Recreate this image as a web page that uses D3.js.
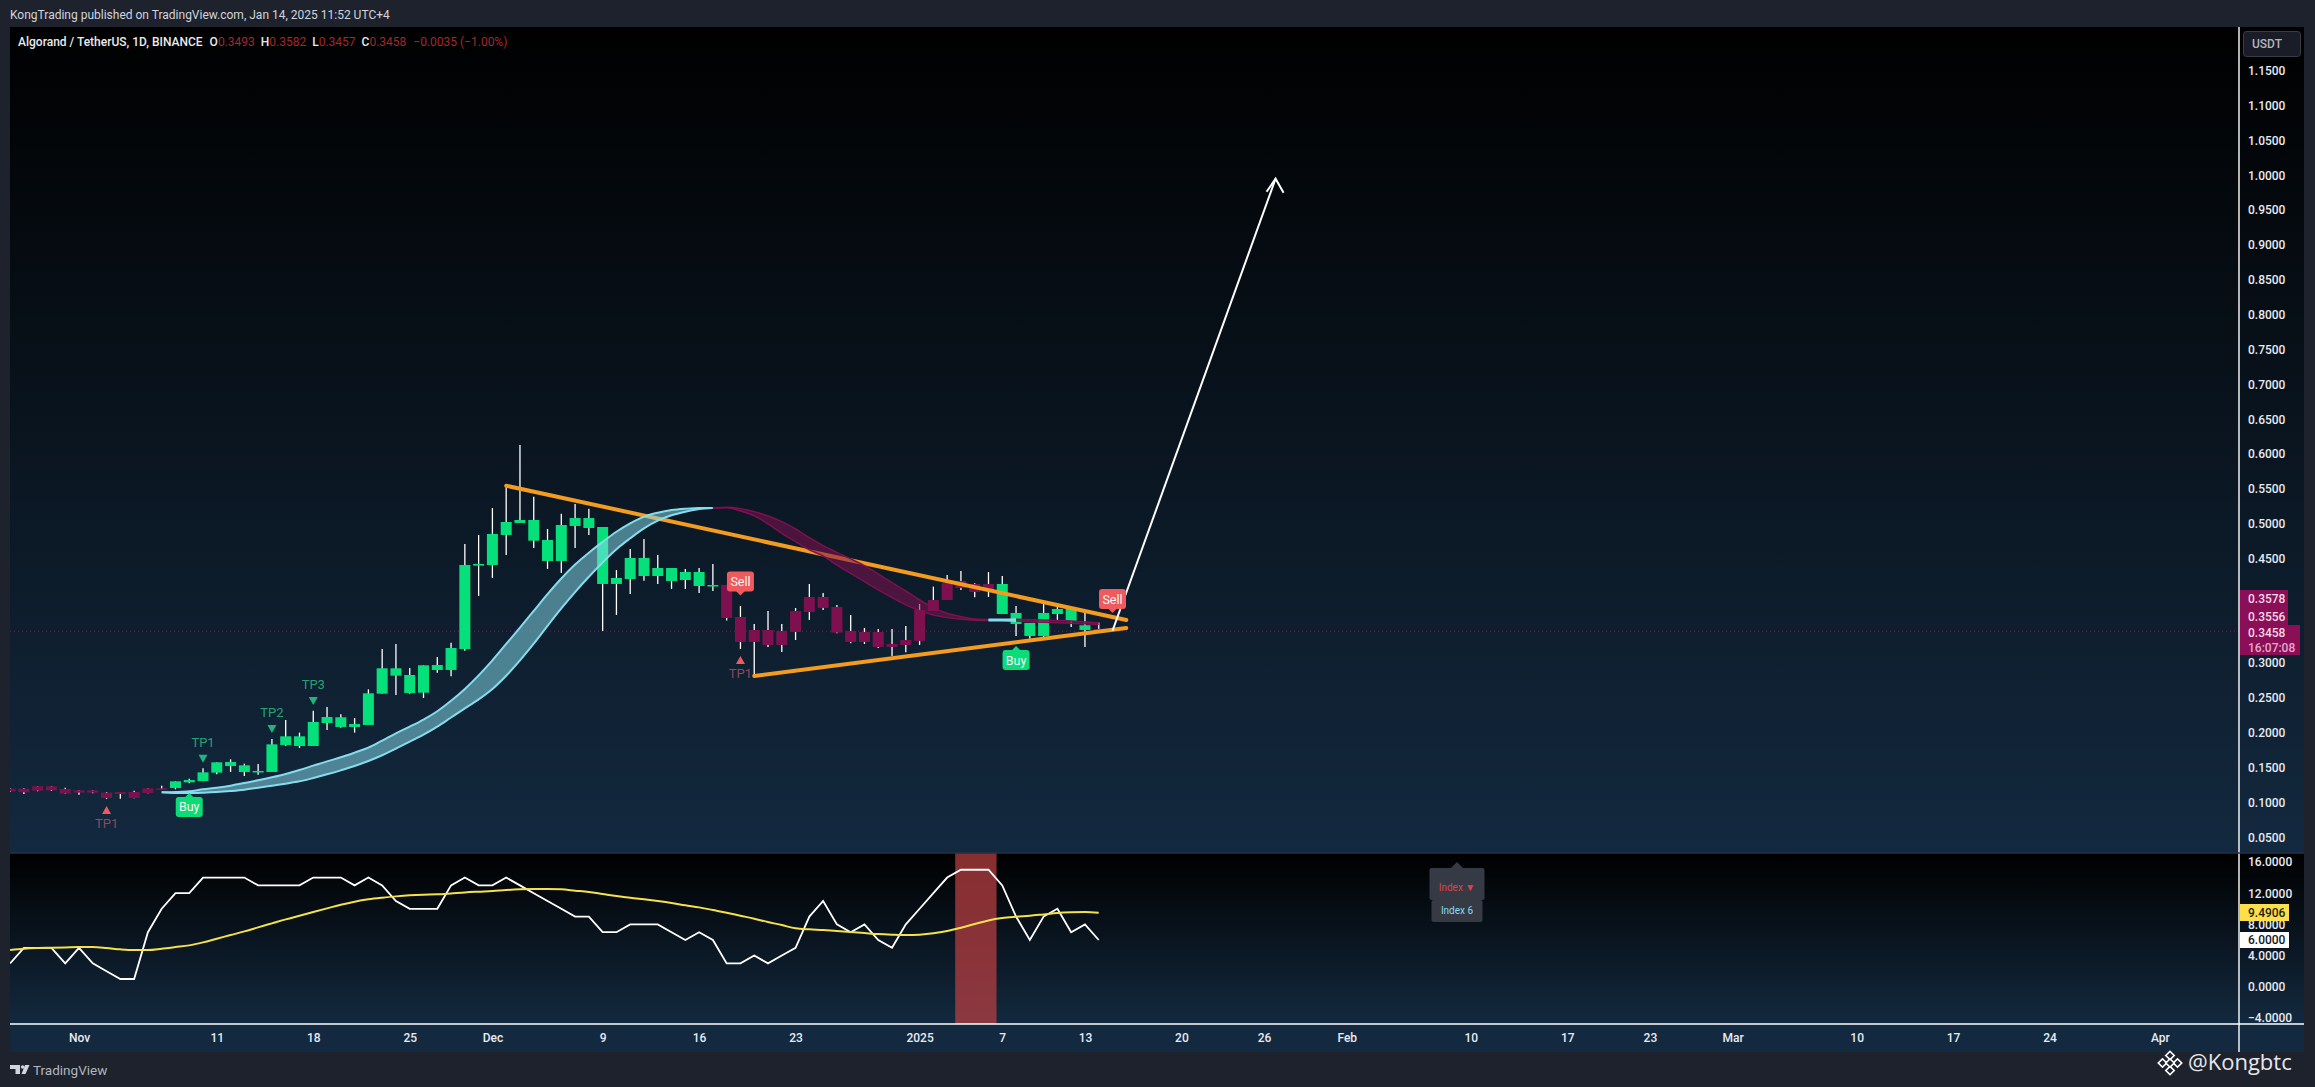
<!DOCTYPE html>
<html>
<head>
<meta charset="utf-8">
<title>Algorand / TetherUS</title>
<script src="https://cdn.jsdelivr.net/npm/d3@7"></script>
<style>
  html, body { margin: 0; padding: 0; background: #1e222d; }
  svg { display: block; }
  text { font-family: Roboto, "Liberation Sans", sans-serif; }
  .axis .domain, .axis line { display: none; }
  .axis text { fill: #e8ebf1; font-size: 12px; font-weight: 500; font-family: Roboto, sans-serif; }
</style>
</head>
<body>
<div id="chart"></div>
<script>
// Daily candles, one entry per day starting 2024-10-27
var firstCandle = "2024-10-27";

var candleHigh = [
  .1204,.1204,.1233,.1237,.1213,
  .1175,.1175,.1151,.1151,.1170,.1204,.1242,.1304,.1343,.1491,.1577,.1620,.1558,.1553,.1912,
  .2184,.2003,.2318,.2371,.2266,.2213,.2624,.3203,.3275,.2930,.2969,.3088,.3294,.4709,.4839,
  .5226,.5522,.6130,.5389,.4925,.5145,.5283,.5216,.4953,.4336,.4638,.4781,.4552,.4365,.4351,
  .4365,.4423,.4122,.3820,.3562,.3748,.3562,.3791,.4136,.4007,.3835,.3691,.3505,.3490,.3490,.3533,
  .3849,.4098,.4265,.4322,.4145,.4308,.4251,.3820,.3576,.3863,.3834,.3777,.3734,.3582
];
var candleTop = [
  .1199,.1199,.1233,.1233,.1194,
  .1175,.1175,.1142,.1151,.1151,.1204,.1204,.1304,.1323,.1433,.1577,.1582,.1534,.1453,.1835,
  .1950,.1950,.2156,.2227,.2223,.2127,.2567,.2926,.2926,.2830,.2969,.2973,.3217,.4408,.4423,
  .4853,.5025,.5054,.5054,.4767,.4982,.5082,.5082,.4953,.4222,.4509,.4509,.4365,.4365,.4308,
  .4308,.4121,.4122,.3662,.3476,.3476,.3462,.3748,.3949,.3949,.3806,.3462,.3447,.3447,.3275,.3332,
  .3763,.3906,.4150,.4179,.4136,.4136,.4136,.3720,.3576,.3720,.3777,.3777,.3543,.3493
];
var candleBottom = [
  .1161,.1147,.1170,.1175,.1127,
  .1142,.1142,.1065,.1123,.1065,.1137,.1190,.1209,.1290,.1309,.1429,.1524,.1438,.1438,.1438,
  .1826,.1811,.1811,.2141,.2084,.2084,.2113,.2562,.2820,.2572,.2576,.2902,.2902,.3203,.4399,
  .4408,.4839,.5011,.4757,.4466,.4466,.4968,.4939,.4136,.4136,.4207,.4250,.4250,.4179,.4193,
  .4107,.4107,.3648,.3304,.3304,.3261,.3261,.3447,.3734,.3792,.3438,.3304,.3304,.3232,.3232,.3261,
  .3318,.3748,.3906,.4078,.4021,.4050,.3705,.3562,.3390,.3390,.3705,.3605,.3476,.3458
];
var candleLow = [
  .1151,.1123,.1161,.1166,.1123,
  .1113,.1132,.1051,.1056,.1060,.1132,.1190,.1190,.1276,.1304,.1405,.1438,.1381,.1400,.1438,
  .1811,.1783,.1811,.2041,.2074,.2003,.2113,.2562,.2543,.2562,.2500,.2863,.2811,.3179,.3963,
  .4222,.4552,.5011,.4652,.4351,.4293,.4652,.4839,.3461,.3691,.3992,.4183,.4136,.4064,.4064,
  .4006,.4035,.3610,.3203,.2830,.3232,.3160,.3332,.3619,.3763,.3428,.3285,.3275,.3218,.3103,.3155,
  .3261,.3748,.3906,.4050,.3945,.3949,.3705,.3390,.3351,.3366,.3619,.3519,.3232,.3457
];
var bullRuns = [["2024-11-08", "2024-12-17"], ["2025-01-07", "2025-01-13"]];

// Trend ribbon, one entry per day starting 2024-11-07
var firstRibbon = "2024-11-07";
var ribbonUpper = [
  .1147,.1151,.1161,.1190,.1213,.1242,.1280,.1319,.1362,.1410,.1467,.1529,.1591,.1649,.1716,.1787,
  .1888,.1993,.2089,.2190,.2310,.2460,.2630,.2825,
  .3040,.3275,.3510,.3750,.3990,.4215,.4415,.4585,.4740,.4885,.5005,.5102,.5159,.5197,.5216,.5226,
  .5226,.5236,.5217,.5174,.5111,.5030,.4925,.4801,.4686,.4590,.4495,.4399,.4279,.4155,.4035,
  .3906,.3796,.3715,.3667,.3634,.3625,.3625,.3629,.3624,.3619,.3612,.3604,.3592,.3578
];
var ribbonLower = [
  .1147,.1137,.1137,.1142,.1151,.1166,.1185,.1213,.1242,.1271,.1304,.1352,.1405,.1462,.1524,.1596,
  .1678,.1773,.1874,.1975,.2090,.2220,.2350,.2480,
  .2630,.2820,.3040,.3280,.3535,.3785,.4020,.4240,.4445,.4635,.4791,.4934,.5044,.5121,.5173,.5212,
  .5226,.5231,.5183,.5112,.4997,.4863,.4743,.4624,.4538,.4408,.4289,.4169,.4050,.3940,.3835,
  .3753,.3691,.3653,.3629,.3615,.3610,.3610,.3605,.3595,.3586,.3578,.3573,.3565,.3556
];
var ribbonSpans = [
  { from: "2024-11-07", to: "2024-12-17", dir: "bull" },
  { from: "2024-12-17", to: "2025-01-06", dir: "bear" },
  { from: "2025-01-06", to: "2025-01-08", dir: "bull" },
  { from: "2025-01-08", to: "2025-01-14", dir: "bear" }
];

// Lower pane, one entry per candle
var indexValues = [
  3,5,5,5,3,
  5,3,2,1,1,7,10,12,12,14,14,14,14,13,13,13,13,14,14,14,13,14,13,11,10,10,10,13,14,13,
  13,14,13,12,11,10,9,9,7,7,8,8,8,7,6,7,6,3,3,4,3,4,5,9,11,8,7,8,6,5,8,
  10,12,14,15,15,15,13,9,6,9,10,7,8,6
];
var indexAverage = [
  4.71,4.88,4.97,5.01,5.05,
  5.09,5.09,4.97,4.80,4.71,4.71,4.88,5.09,5.31,5.69,6.16,6.63,7.10,7.62,8.13,8.64,9.11,9.58,10.05,
  10.52,10.91,11.21,11.42,11.59,11.72,11.80,11.85,11.97,12.10,12.19,
  12.27,12.40,12.49,12.53,12.53,12.49,12.32,12.15,11.89,11.63,11.42,11.21,10.99,10.74,10.44,10.18,
  9.84,9.50,9.11,8.73,8.30,7.91,7.49,7.36,7.27,7.15,7.02,6.89,6.76,6.68,6.63,
  6.68,6.85,7.15,7.57,8.04,8.51,8.81,8.98,9.11,9.28,9.45,9.54,9.58,9.4906
];
var alertSpan = ["2025-01-03T14:00:00Z", "2025-01-06T14:00:00Z"];

// Drawn trend lines and the projected move
var trendLines = [
  { from: ["2024-12-02", .5546], to: ["2025-01-16", .3619] },
  { from: ["2024-12-20", .2816], to: ["2025-01-16", .3504] }
];
var projection = { from: ["2025-01-15", .3465], to: ["2025-01-26T20:00:00Z", .995] };

// Signals on the price pane
var boxSignals = [
  { date: "2024-11-09", price: .0936, label: "Buy" },
  { date: "2025-01-08", price: .3045, label: "Buy" },
  { date: "2024-12-19", price: .4170, label: "Sell" },
  { date: "2025-01-15", price: .3920, label: "Sell" }
];
var tpSignals = [
  { date: "2024-11-10", price: .1629, label: "TP1", side: "up" },
  { date: "2024-11-15", price: .2055, label: "TP2", side: "up" },
  { date: "2024-11-18", price: .2457, label: "TP3", side: "up" },
  { date: "2024-11-03", price: .0893, label: "TP1", side: "down" },
  { date: "2024-12-19", price: .3045, label: "TP1", side: "down" }
];

// Axes
var priceTicks = [1.15,1.1,1.05,1,.95,.9,.85,.8,.75,.7,.65,.6,.55,.5,.45,.3,.25,.2,.15,.1,.05];
var indexTicks = [16,12,8,4,0,-4];
var dateTicks = [
  "2024-11-01","2024-11-11","2024-11-18","2024-11-25","2024-12-01","2024-12-09","2024-12-16",
  "2024-12-23","2025-01-01","2025-01-07","2025-01-13","2025-01-20","2025-01-26","2025-02-01",
  "2025-02-10","2025-02-17","2025-02-23","2025-03-01","2025-03-10","2025-03-17","2025-03-24","2025-04-01"
];
var dateLabels = [
  "Nov","11","18","25","Dec","9","16","23","2025","7","13","20","26","Feb","10","17","23","Mar","10","17","24","Apr"
];

// Header texts
var publishLine = "KongTrading published on TradingView.com, Jan 14, 2025 11:52 UTC+4";
var symbolName = "Algorand / TetherUS, 1D, BINANCE";
var ohlcLabels = ["O", "H", "L", "C"];
var ohlcValues = ["0.3493", "0.3582", "0.3457", "0.3458"];
var changeText = "\u22120.0035 (\u22121.00%)";

var parseDay = function(s) {
  return new Date(s.length > 10 ? s : s + "T00:00:00Z");
};

var render = function() {
  var width = 2315;
  var height = 1087;

  var pane = { left: 10, right: 2239, edge: 2304, top: 27, split: 853, bottom: 1024, foot: 1052 };

  var x = d3
    .scaleUtc()
    .domain([parseDay("2024-10-27"), parseDay("2025-04-06")])
    .range([10.1, 2228.7]);

  var y = d3.scaleLinear().domain([1.2127, 0.0276]).range([pane.top, pane.split]);
  var yIndex = d3.scaleLinear().domain([17.15, -4.77]).range([pane.split, pane.bottom]);

  var candles = candleHigh.map(function(h, i) {
    return {
      date: d3.utcDay.offset(parseDay(firstCandle), i),
      high: h,
      top: candleTop[i],
      bottom: candleBottom[i],
      low: candleLow[i],
      index: indexValues[i],
      average: indexAverage[i]
    };
  });

  var ribbon = ribbonUpper.map(function(u, i) {
    return {
      date: d3.utcDay.offset(parseDay(firstRibbon), i),
      upper: u,
      lower: ribbonLower[i]
    };
  });

  var isBull = function(date) {
    return bullRuns.some(function(r) {
      return date >= parseDay(r[0]) && date <= parseDay(r[1]);
    });
  };

  var svg = d3
    .select("#chart")
    .append("svg")
    .attr("width", width)
    .attr("height", height);

  var defs = svg.append("defs");

  var addGradient = function(id) {
    var g = defs
      .append("linearGradient")
      .attr("id", id)
      .attr("x1", 0)
      .attr("x2", 0)
      .attr("y1", 0)
      .attr("y2", 1);
    g.append("stop").attr("offset", "0%").attr("stop-color", "#000000");
    g.append("stop").attr("offset", "100%").attr("stop-color", "#13293f");
  };
  addGradient("main-bg");
  addGradient("index-bg");

  defs
    .append("clipPath")
    .attr("id", "price-clip")
    .append("rect")
    .attr("x", pane.left)
    .attr("y", pane.top)
    .attr("width", pane.right - pane.left)
    .attr("height", pane.split - pane.top);

  defs
    .append("clipPath")
    .attr("id", "index-clip")
    .append("rect")
    .attr("x", pane.left)
    .attr("y", pane.split)
    .attr("width", pane.right - pane.left)
    .attr("height", pane.bottom - pane.split);

  // Frame and pane backgrounds
  svg.append("rect").attr("width", width).attr("height", height).attr("fill", "#1e222d");

  svg
    .append("rect")
    .attr("x", pane.left)
    .attr("y", pane.top)
    .attr("width", pane.edge - pane.left)
    .attr("height", pane.split - pane.top)
    .attr("fill", "url(#main-bg)");

  svg
    .append("rect")
    .attr("x", pane.left)
    .attr("y", pane.split)
    .attr("width", pane.edge - pane.left)
    .attr("height", pane.bottom - pane.split)
    .attr("fill", "url(#index-bg)");

  svg
    .append("rect")
    .attr("x", pane.left)
    .attr("y", pane.bottom)
    .attr("width", pane.edge - pane.left)
    .attr("height", pane.foot - pane.bottom)
    .attr("fill", "#13293f");

  // Price pane
  var price = svg.append("g").attr("clip-path", "url(#price-clip)");

  price
    .append("line")
    .attr("x1", pane.left)
    .attr("x2", pane.right)
    .attr("y1", y(0.3458))
    .attr("y2", y(0.3458))
    .attr("stroke", "#8b1157")
    .attr("stroke-width", 1)
    .attr("stroke-dasharray", "1 3");

  var candleWidth = 11;

  var candle = price
    .selectAll(".candle")
    .data(candles)
    .enter()
    .append("g")
    .attr("class", "candle");

  candle
    .append("line")
    .attr("x1", d => x(d.date))
    .attr("x2", d => x(d.date))
    .attr("y1", d => y(d.high))
    .attr("y2", d => y(d.low))
    .attr("stroke", "#ffffff")
    .attr("stroke-width", 1.3);

  candle
    .append("rect")
    .attr("x", d => x(d.date) - candleWidth / 2)
    .attr("y", d => y(d.top))
    .attr("width", candleWidth)
    .attr("height", d => Math.max(1.5, y(d.bottom) - y(d.top)))
    .attr("fill", d => (isBull(d.date) ? "#06e07b" : "#7f1050"));

  // Trend lines
  price
    .selectAll(".trend-line")
    .data(trendLines)
    .enter()
    .append("line")
    .attr("class", "trend-line")
    .attr("x1", d => x(parseDay(d.from[0])))
    .attr("y1", d => y(d.from[1]))
    .attr("x2", d => x(parseDay(d.to[0])))
    .attr("y2", d => y(d.to[1]))
    .attr("stroke", "#f39c1f")
    .attr("stroke-width", 4)
    .attr("stroke-linecap", "round");

  // Ribbon
  var ribbonArea = d3
    .area()
    .x(d => x(d.date))
    .y0(d => y(d.lower))
    .y1(d => y(d.upper))
    .curve(d3.curveMonotoneX);

  var upperLine = d3
    .line()
    .x(d => x(d.date))
    .y(d => y(d.upper))
    .curve(d3.curveMonotoneX);

  var lowerLine = d3
    .line()
    .x(d => x(d.date))
    .y(d => y(d.lower))
    .curve(d3.curveMonotoneX);

  ribbonSpans.forEach(function(span) {
    var rows = ribbon.filter(function(d) {
      return d.date >= parseDay(span.from) && d.date <= parseDay(span.to);
    });
    var bull = span.dir == "bull";

    price
      .append("path")
      .datum(rows)
      .attr("d", ribbonArea)
      .attr("fill", bull ? "#86dcec" : "#7f1050")
      .attr("fill-opacity", bull ? 0.52 : 0.55);

    [upperLine, lowerLine].forEach(function(line) {
      price
        .append("path")
        .datum(rows)
        .attr("d", line)
        .attr("fill", "none")
        .attr("stroke", bull ? "#86dcec" : "#7f1050")
        .attr("stroke-width", bull ? 2 : 1.5);
    });
  });

  // Projected move
  var arrowEnd = [x(parseDay(projection.to[0])), y(projection.to[1])];

  price
    .append("line")
    .attr("x1", x(parseDay(projection.from[0])))
    .attr("y1", y(projection.from[1]))
    .attr("x2", arrowEnd[0])
    .attr("y2", arrowEnd[1])
    .attr("stroke", "#ffffff")
    .attr("stroke-width", 2);

  price
    .append("path")
    .attr(
      "d",
      d3.line()([
        [arrowEnd[0] - 9, arrowEnd[1] + 13],
        arrowEnd,
        [arrowEnd[0] + 8, arrowEnd[1] + 14]
      ])
    )
    .attr("fill", "none")
    .attr("stroke", "#ffffff")
    .attr("stroke-width", 2);

  // Buy and Sell boxes
  var box = price
    .selectAll(".signal")
    .data(boxSignals)
    .enter()
    .append("g")
    .attr("class", "signal")
    .attr("transform", d => "translate(" + x(parseDay(d.date)) + "," + y(d.price) + ")");

  box
    .append("path")
    .attr("d", d => (d.label == "Buy" ? "M-5,-9L0,-14L5,-9Z" : "M-5,9L0,14L5,9Z"))
    .attr("fill", d => (d.label == "Buy" ? "#0bdc78" : "#ef5a5f"));

  box
    .append("rect")
    .attr("x", -13.5)
    .attr("y", -10)
    .attr("width", 27)
    .attr("height", 20)
    .attr("rx", 3)
    .attr("fill", d => (d.label == "Buy" ? "#0bdc78" : "#ef5a5f"));

  box
    .append("text")
    .attr("text-anchor", "middle")
    .attr("y", 4.5)
    .attr("font-size", 12.5)
    .attr("fill", "#f4f7f5")
    .text(d => d.label);

  // TP markers
  var tp = price
    .selectAll(".tp")
    .data(tpSignals)
    .enter()
    .append("g")
    .attr("class", "tp")
    .attr("transform", d => "translate(" + x(parseDay(d.date)) + "," + y(d.price) + ")");

  tp
    .append("path")
    .attr("d", d => (d.side == "up" ? "M-4.5,-4L4.5,-4L0,4Z" : "M-4.5,4L4.5,4L0,-4Z"))
    .attr("fill", d => (d.side == "up" ? "#1fb57c" : "#ef5a5f"));

  tp
    .append("text")
    .attr("text-anchor", "middle")
    .attr("y", d => (d.side == "up" ? -12 : 18))
    .attr("font-size", 13)
    .attr("fill", d => (d.side == "up" ? "#27a372" : "#8f4a5c"))
    .text(d => d.label);

  // Lower pane
  var index = svg.append("g").attr("clip-path", "url(#index-clip)");

  index
    .append("rect")
    .attr("x", x(parseDay(alertSpan[0])))
    .attr("y", pane.split)
    .attr("width", x(parseDay(alertSpan[1])) - x(parseDay(alertSpan[0])))
    .attr("height", pane.bottom - pane.split)
    .attr("fill", "#b63e41")
    .attr("fill-opacity", 0.74);

  index
    .append("path")
    .datum(candles)
    .attr(
      "d",
      d3
        .line()
        .x(d => x(d.date))
        .y(d => yIndex(d.index))
    )
    .attr("fill", "none")
    .attr("stroke", "#ffffff")
    .attr("stroke-width", 1.8);

  index
    .append("path")
    .datum(candles)
    .attr(
      "d",
      d3
        .line()
        .x(d => x(d.date))
        .y(d => yIndex(d.average))
        .curve(d3.curveMonotoneX)
    )
    .attr("fill", "none")
    .attr("stroke", "#f5e14c")
    .attr("stroke-width", 2);

  // Index tooltip
  var tip = svg.append("g").attr("transform", "translate(1457,0)");

  tip
    .append("rect")
    .attr("x", -25.5)
    .attr("y", 900)
    .attr("width", 51)
    .attr("height", 22)
    .attr("rx", 2)
    .attr("fill", "#363a45");

  tip.append("path").attr("d", "M-6,868L0,862L6,868Z").attr("fill", "#363a45");

  tip
    .append("rect")
    .attr("x", -27.5)
    .attr("y", 868)
    .attr("width", 55)
    .attr("height", 32)
    .attr("rx", 2)
    .attr("fill", "#363a45");

  tip
    .append("text")
    .attr("text-anchor", "middle")
    .attr("y", 891)
    .attr("font-size", 10)
    .attr("fill", "#d6474e")
    .text("Index \u25BC");

  tip
    .append("text")
    .attr("text-anchor", "middle")
    .attr("y", 914)
    .attr("font-size", 10)
    .attr("fill", "#86dcec")
    .text("Index 6");

  // Axes
  svg
    .append("g")
    .attr("class", "axis")
    .attr("transform", "translate(" + (pane.right + 9) + ",0)")
    .call(
      d3
        .axisRight(y)
        .tickValues(priceTicks)
        .tickSize(0)
        .tickPadding(0)
        .tickFormat(d3.format(".4f"))
    );

  svg
    .append("g")
    .attr("class", "axis")
    .attr("transform", "translate(" + (pane.right + 9) + ",0)")
    .call(
      d3
        .axisRight(yIndex)
        .tickValues(indexTicks)
        .tickSize(0)
        .tickPadding(0)
        .tickFormat(d3.format(".4f"))
    );

  svg
    .append("g")
    .attr("class", "axis")
    .attr("transform", "translate(0," + pane.bottom + ")")
    .call(
      d3
        .axisBottom(x)
        .tickValues(dateTicks.map(parseDay))
        .tickSize(0)
        .tickPadding(9)
        .tickFormat(function(d, i) {
          return dateLabels[i];
        })
    );

  svg
    .append("line")
    .attr("x1", pane.right)
    .attr("x2", pane.right)
    .attr("y1", pane.top)
    .attr("y2", pane.foot)
    .attr("stroke", "#ffffff")
    .attr("stroke-width", 1.4);

  svg
    .append("line")
    .attr("x1", pane.left)
    .attr("x2", pane.edge)
    .attr("y1", pane.bottom)
    .attr("y2", pane.bottom)
    .attr("stroke", "#ffffff")
    .attr("stroke-width", 1.4);

  svg
    .append("line")
    .attr("x1", pane.left)
    .attr("x2", pane.edge)
    .attr("y1", pane.split)
    .attr("y2", pane.split)
    .attr("stroke", "#1f3348")
    .attr("stroke-width", 1.5);

  // Price tags on the axis
  var addTag = function(yTop, h, w, fill, color, label) {
    svg
      .append("rect")
      .attr("x", pane.right + 1)
      .attr("y", yTop)
      .attr("width", w)
      .attr("height", h)
      .attr("fill", fill);
    svg
      .append("text")
      .attr("x", pane.right + 9)
      .attr("y", yTop + h / 2 + 4)
      .attr("font-size", 12)
      .attr("font-weight", 500)
      .attr("fill", color)
      .text(label);
  };

  addTag(590, 18, 48, "#8b0f56", "#f3dbe8", "0.3578");
  addTag(608, 17, 48, "#8b0f56", "#f3dbe8", "0.3556");
  addTag(625, 15, 60, "#8b0f56", "#f3dbe8", "0.3458");
  addTag(640, 15, 60, "#8b0f56", "#e8a6cc", "16:07:08");
  addTag(904, 17, 49, "#fbe04a", "#1c1c14", "9.4906");
  addTag(932, 16, 49, "#ffffff", "#131722", "6.0000");

  // USDT button
  svg
    .append("rect")
    .attr("x", 2243.5)
    .attr("y", 31.5)
    .attr("width", 57)
    .attr("height", 25)
    .attr("rx", 3)
    .attr("fill", "#1a1d28")
    .attr("stroke", "#3a3d48");

  svg
    .append("text")
    .attr("x", 2252)
    .attr("y", 48)
    .attr("font-size", 12)
    .attr("font-weight", 500)
    .attr("fill", "#b2b5be")
    .text("USDT");

  // Header
  svg
    .append("text")
    .attr("x", 10)
    .attr("y", 19)
    .attr("font-size", 12)
    .attr("fill", "#d1d4dc")
    .text(publishLine);

  var legend = svg
    .append("text")
    .attr("x", 18)
    .attr("y", 46)
    .attr("font-size", 12)
    .attr("font-weight", 500)
    .attr("fill", "#e8ebf1");

  legend.append("tspan").text(symbolName);

  ohlcLabels.forEach(function(label, i) {
    legend
      .append("tspan")
      .attr("dx", i == 0 ? 7 : 6)
      .text(label);
    legend
      .append("tspan")
      .attr("fill", "#a3282d")
      .attr("font-weight", 400)
      .text(ohlcValues[i]);
  });

  legend
    .append("tspan")
    .attr("dx", 7)
    .attr("fill", "#a3282d")
    .attr("font-weight", 400)
    .text(changeText);

  // TradingView mark
  var logo = svg.append("g").attr("fill", "#d1d4dc");
  logo.append("path").attr("d", "M10,1065H20V1074H15.5V1069H10Z");
  logo.append("circle").attr("cx", 22.6).attr("cy", 1067).attr("r", 1.8);
  logo.append("path").attr("d", "M25,1065H29.5L25.5,1074H21.5Z");

  svg
    .append("text")
    .attr("x", 33)
    .attr("y", 1075)
    .attr("font-size", 13.5)
    .attr("fill", "#b2b5be")
    .text("TradingView");

  // Watermark
  var mark = svg
    .append("g")
    .attr("transform", "translate(2170,1063)")
    .attr("fill", "#1e222d")
    .attr("stroke", "#ffffff")
    .attr("stroke-width", 1.6);

  [[0, -7.5], [-7.5, 0], [7.5, 0], [0, 7.5], [0, 0]].forEach(function(p) {
    mark
      .append("rect")
      .attr("x", -3)
      .attr("y", -3)
      .attr("width", 6)
      .attr("height", 6)
      .attr("transform", "translate(" + p[0] + "," + p[1] + ") rotate(45)");
  });

  svg
    .append("text")
    .attr("x", 2188)
    .attr("y", 1070)
    .attr("font-size", 22)
    .attr("fill", "#e6e8ec")
    .style("font-family", "'Open Sans', sans-serif")
    .text("@Kongbtc");
};

window.onload = render;
</script>
</body>
</html>
